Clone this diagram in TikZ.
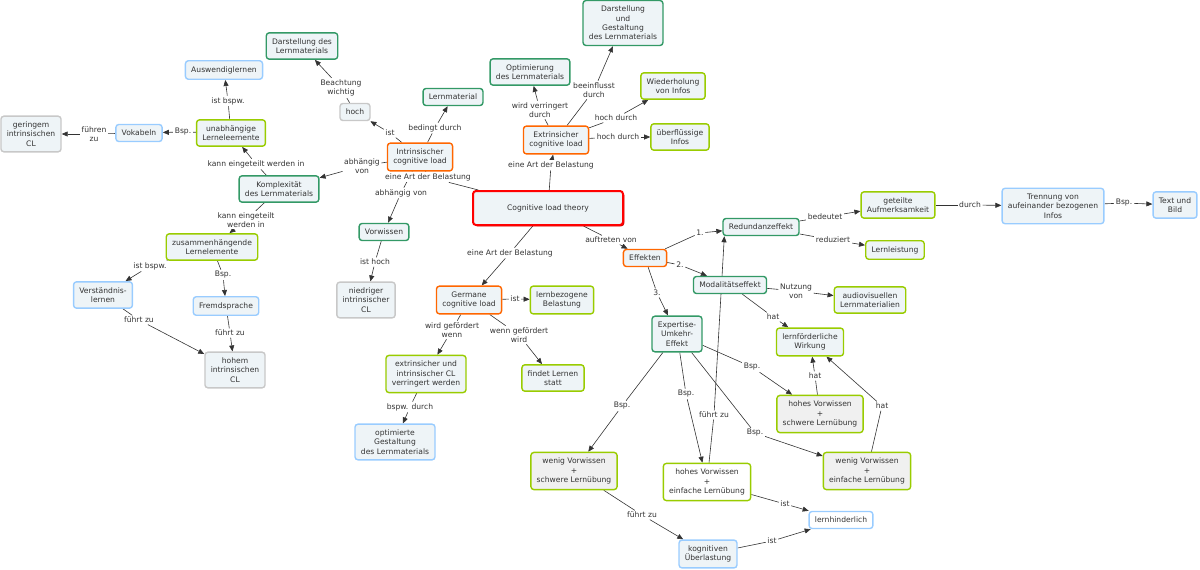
\documentclass[tikz,border=0pt]{standalone}
\usepackage{fontspec}
\setmainfont{DejaVu Sans}
\usetikzlibrary{arrows.meta,shadows}
\definecolor{boxfill}{HTML}{EEF4F7}
\definecolor{greyfill}{HTML}{F0F0F0}
\definecolor{dgreen}{HTML}{339966}
\definecolor{limeg}{HTML}{99CC00}
\definecolor{orng}{HTML}{FF6600}
\definecolor{lblue}{HTML}{99CCFF}
\definecolor{greyb}{HTML}{C8C8C8}
\definecolor{textc}{HTML}{333333}
\pgfdeclarelayer{bg}
\pgfsetlayers{bg,main}
\begin{document}
\begin{tikzpicture}[x=1pt,y=-1pt]

	\tikzstyle{concept}=[draw,fill=boxfill,rounded corners=3pt,line width=1.4pt,
		align=center,text=textc,inner xsep=5.8pt,inner ysep=5.6pt,
		font=\fontsize{7.6}{9.3}\selectfont]
	\tikzstyle{dg}=[concept,draw=dgreen]
	\tikzstyle{lg}=[concept,draw=limeg]
	\tikzstyle{og}=[concept,draw=orng]
	\tikzstyle{bl}=[concept,draw=lblue]
	\tikzstyle{gr}=[concept,draw=greyb]
	\tikzstyle{root}=[concept,draw=red,line width=2pt,minimum width=150pt,minimum height=34pt,
		drop shadow={shadow xshift=1.3pt,shadow yshift=-1.3pt,fill=red!80!black,opacity=1}]
	\tikzstyle{lbl}=[fill=white,inner sep=1.5pt,align=center,text=textc,
		font=\fontsize{7.6}{9.3}\selectfont]
	\tikzstyle{conn}=[line width=0.6pt,textc]
	\tikzstyle{arr}=[-{Triangle[length=6pt,width=5pt]}]

	\useasboundingbox (0,0) rectangle (1200,570);

	% concepts
	\node[root]		(clt)		at (548,208)	{Cognitive load theory};
	\node[og]		(intr)		at (420,157)	{Intrinsischer\\cognitive load};
	\node[og]		(extr)		at (556,140)	{Extrinsicher\\cognitive load};
	\node[og]		(germ)		at (469,300)	{Germane\\cognitive load};
	\node[og]		(effekt)	at (645,258)	{Effekten};

	\node[gr,minimum width=58pt]	(gering)	at (31,134)	{geringem\\intrinsischen\\CL};
	\node[bl]		(vokabeln)	at (139,133)	{Vokabeln};
	\node[lg]		(unabh)		at (231,133)	{unabhängige\\Lerneleemente};
	\node[bl]		(auswendig)	at (224,70)	{Auswendiglernen};
	\node[dg]		(darst)		at (302,46)	{Darstellung des\\Lernmaterials};
	\node[gr]		(hoch)		at (355,112)	{hoch};
	\node[dg]		(lernmat)	at (453,97)	{Lernmaterial};
	\node[dg]		(komplex)	at (279,189)	{Komplexität\\des Lernmaterials};
	\node[lg]		(zusam)		at (212,247)	{zusammenhängende\\Lernelemente};
	\node[bl]		(verst)		at (103,295)	{Verständnis-\\lernen};
	\node[bl]		(fremd)		at (226,306)	{Fremdsprache};
	\node[gr]		(hohem)		at (235,370)	{hohem\\intrinsischen\\CL};
	\node[dg]		(vorw)		at (384,232)	{Vorwissen};
	\node[gr]		(niedr)		at (366,300)	{niedriger\\intrinsischer\\CL};

	\node[dg]		(optim)		at (530,72)	{Optimierung\\des Lernmaterials};
	\node[dg,minimum width=80pt]	(darstgest)	at (623,23)	{Darstellung\\und\\Gestaltung\\des Lernmaterials};
	\node[lg]		(wiederh)	at (673,86)	{Wiederholung\\von Infos};
	\node[lg]		(ueberfl)	at (680,137)	{überflüssige\\Infos};

	\node[lg]		(lernbez)	at (562,300)	{lernbezogene\\Belastung};
	\node[lg]		(extint)	at (426,374)	{extrinsicher und\\intrinsischer CL\\verringert werden};
	\node[lg]		(findet)	at (553,378)	{findet Lernen\\statt};
	\node[bl,minimum width=80pt]	(optges)	at (395,442)	{optimierte\\Gestaltung\\des Lernmaterials};

	\node[dg]		(redund)	at (761,227)	{Redundanzeffekt};
	\node[lg]		(geteilt)	at (898,205)	{geteilte\\Aufmerksamkeit};
	\node[lg]		(lernleist)	at (895,250)	{Lernleistung};
	\node[bl,minimum width=101pt]	(trenn)	at (1053,206)	{Trennung von\\aufeinander bezogenen\\Infos};
	\node[bl]		(textbild)	at (1175,205)	{Text und\\Bild};
	\node[dg]		(modal)		at (730,285)	{Modalitätseffekt};
	\node[lg]		(audio)		at (870,300)	{audiovisuellen\\Lernmaterialien};
	\node[dg]		(expert)	at (677,334)	{Expertise-\\Umkehr-\\Effekt};
	\node[lg]		(lernfoerd)	at (810,342)	{lernförderliche\\Wirkung};
	\node[lg,fill=greyfill]	(hohschwer)	at (820,414)	{hohes Vorwissen\\+\\schwere Lernübung};
	\node[lg,fill=greyfill]	(wenschwer)	at (574,471)	{wenig Vorwissen\\+\\schwere Lernübung};
	\node[lg,fill=white]	(hoheinf)	at (707,482)	{hohes Vorwissen\\+\\einfache Lernübung};
	\node[lg,fill=greyfill]	(weneinf)	at (867,471)	{wenig Vorwissen\\+\\einfache Lernübung};
	\node[bl,fill=white]	(lernhind)	at (841,520)	{lernhinderlich};
	\node[bl]		(kogn)		at (708,554)	{kognitiven\\Überlastung};

	% linking phrases
	\node[lbl] (lvok)	at (183,132)	{Bsp.};
	\node[lbl] (lger)	at (94,134)	{führen\\zu};
	\node[lbl] (lausw)	at (228,101)	{ist bspw.};
	\node[lbl] (ldarst)	at (341,88)	{Beachtung\\wichtig};
	\node[lbl] (lhoch)	at (390,133)	{ist};
	\node[lbl] (llern)	at (435,128)	{bedingt durch};
	\node[lbl] (lkompl)	at (362,166)	{abhängig\\von};
	\node[lbl] (lunab)	at (256,164)	{kann eingeteilt werden in};
	\node[lbl] (lzus)	at (246,220)	{kann eingeteilt\\werden in};
	\node[lbl] (lverst)	at (150,266)	{ist bspw.};
	\node[lbl] (lfremd)	at (223,275)	{Bsp.};
	\node[lbl] (lfrhoh)	at (230,333)	{führt zu};
	\node[lbl] (lvshoh)	at (139,320)	{führt zu};
	\node[lbl] (lvorw)	at (401,193)	{abhängig von};
	\node[lbl] (lniedr)	at (375,262)	{ist hoch};
	\node[lbl] (lintr)	at (428,177)	{eine Art der Belastung};
	\node[lbl] (lextr)	at (551,165)	{eine Art der Belastung};
	\node[lbl] (loptim)	at (540,110)	{wird verringert\\durch};
	\node[lbl] (ldgest)	at (594,90)	{beeinflusst\\durch};
	\node[lbl] (lwied)	at (616,118)	{hoch durch};
	\node[lbl] (lueber)	at (618,137)	{hoch durch};
	\node[lbl] (lgerm)	at (510,253)	{eine Art der Belastung};
	\node[lbl] (lbez)	at (515,299)	{ist};
	\node[lbl] (lexint)	at (452,330)	{wird gefördert\\wenn};
	\node[lbl] (lfind)	at (519,335)	{wenn gefördert\\wird};
	\node[lbl] (loptg)	at (410,407)	{bspw. durch};
	\node[lbl] (leff)	at (611,240)	{auftreten von};
	\node[lbl] (l1)		at (700,233)	{1.};
	\node[lbl] (l2)		at (680,265)	{2.};
	\node[lbl] (l3)		at (657,293)	{3.};
	\node[lbl] (lget)	at (825,217)	{bedeutet};
	\node[lbl] (lleist)	at (833,240)	{reduziert};
	\node[lbl] (ltrenn)	at (970,205)	{durch};
	\node[lbl] (ltext)	at (1124,203)	{Bsp.};
	\node[lbl] (laudio)	at (796,291)	{Nutzung\\von};
	\node[lbl] (lmodf)	at (773,317)	{hat};
	\node[lbl] (lhs)	at (752,367)	{Bsp.};
	\node[lbl] (lws)	at (622,406)	{Bsp.};
	\node[lbl] (lhe)	at (686,394)	{Bsp.};
	\node[lbl] (lwe)	at (755,433)	{Bsp.};
	\node[lbl] (lhsf)	at (815,376)	{hat};
	\node[lbl] (lwef)	at (882,406)	{hat};
	\node[lbl] (lhered)	at (714,415)	{führt zu};
	\node[lbl] (lhehind)	at (785,504)	{ist};
	\node[lbl] (lwskogn)	at (642,515)	{führt zu};
	\node[lbl] (lkohind)	at (772,541)	{ist};

	\begin{pgfonlayer}{bg}
		\draw[conn] (unabh) -- (lvok) edge[arr] (vokabeln);
		\draw[conn] (vokabeln) -- (lger) edge[arr] (gering);
		\draw[conn] (unabh) -- (lausw) edge[arr] (auswendig);
		\draw[conn] (hoch) -- (ldarst) edge[arr] (darst);
		\draw[conn] (intr) -- (lhoch) edge[arr] (hoch);
		\draw[conn] (intr) -- (llern) edge[arr] (lernmat);
		\draw[conn] (intr) -- (lkompl) edge[arr] (komplex);
		\draw[conn] (komplex) -- (lunab) edge[arr] (unabh);
		\draw[conn] (komplex) -- (lzus) edge[arr] (zusam);
		\draw[conn] (zusam) -- (lverst) edge[arr] (verst);
		\draw[conn] (zusam) -- (lfremd) edge[arr] (fremd);
		\draw[conn] (fremd) -- (lfrhoh) edge[arr] (hohem);
		\draw[conn] (verst) -- (lvshoh) edge[arr] (hohem);
		\draw[conn] (intr) -- (lvorw) edge[arr] (vorw);
		\draw[conn] (vorw) -- (lniedr) edge[arr] (niedr);
		\draw[conn] (clt) -- (lintr) edge[arr] (intr);
		\draw[conn] (clt) -- (lextr) edge[arr] (extr);
		\draw[conn] (extr) -- (loptim) edge[arr] (optim);
		\draw[conn] (extr) -- (ldgest) edge[arr] (darstgest);
		\draw[conn] (extr) -- (lwied) edge[arr] (wiederh);
		\draw[conn] (extr) -- (lueber) edge[arr] (ueberfl);
		\draw[conn] (clt) -- (lgerm) edge[arr] (germ);
		\draw[conn] (germ) -- (lbez) edge[arr] (lernbez);
		\draw[conn] (germ) -- (lexint) edge[arr] (extint);
		\draw[conn] (germ) -- (lfind) edge[arr] (findet);
		\draw[conn] (extint) -- (loptg) edge[arr] (optges);
		\draw[conn] (clt) -- (leff) edge[arr] (effekt);
		\draw[conn] (effekt) -- (l1) edge[arr] (redund);
		\draw[conn] (effekt) -- (l2) edge[arr] (modal);
		\draw[conn] (effekt) -- (l3) edge[arr] (expert);
		\draw[conn] (redund) -- (lget) edge[arr] (geteilt);
		\draw[conn] (redund) -- (lleist) edge[arr] (lernleist);
		\draw[conn] (geteilt) -- (ltrenn) edge[arr] (trenn);
		\draw[conn] (trenn) -- (ltext) edge[arr] (textbild);
		\draw[conn] (modal) -- (laudio) edge[arr] (audio);
		\draw[conn] (modal) -- (lmodf) edge[arr] (lernfoerd);
		\draw[conn] (expert) -- (lhs) edge[arr] (hohschwer);
		\draw[conn] (expert) -- (lws) edge[arr] (wenschwer);
		\draw[conn] (expert) -- (lhe) edge[arr] (hoheinf);
		\draw[conn] (expert) -- (lwe) edge[arr] (weneinf);
		\draw[conn] (hohschwer) -- (lhsf) edge[arr] (lernfoerd);
		\draw[conn] (weneinf) -- (lwef) edge[arr] (lernfoerd);
		\draw[conn] (hoheinf) -- (lhered) edge[arr] ([xshift=2pt]redund.south west);
		\draw[conn] (hoheinf) -- (lhehind) edge[arr] (lernhind);
		\draw[conn] (wenschwer) -- (lwskogn) edge[arr] (kogn);
		\draw[conn] (kogn) -- (lkohind) edge[arr] (lernhind);
	\end{pgfonlayer}

\end{tikzpicture}
\end{document}
